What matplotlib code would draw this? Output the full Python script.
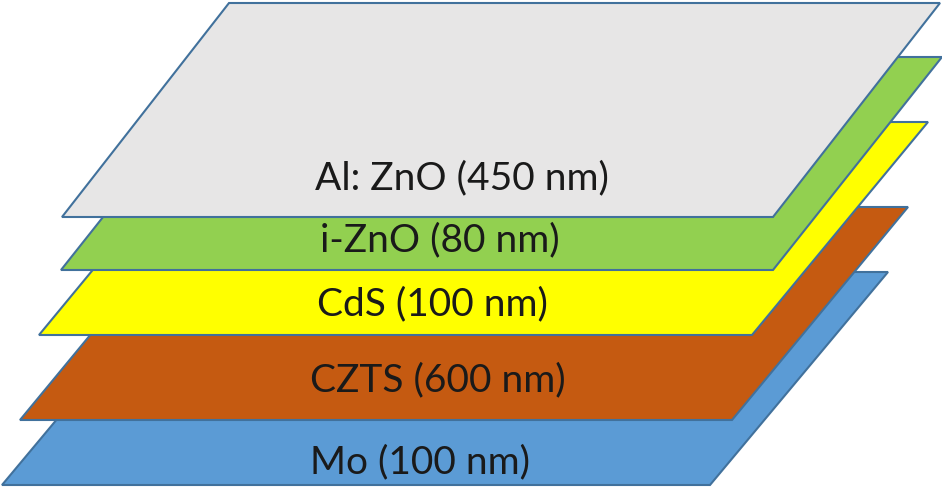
import matplotlib
matplotlib.use("Agg")
import matplotlib.pyplot as plt
from matplotlib.patches import Polygon

# Layers, bottom to top
materials = ["Mo", "CZTS", "CdS", "i-ZnO", "Al: ZnO"]
thickness_nm = [100, 600, 100, 80, 450]
colors = ["#5B9BD5", "#C55A11", "#FFFF00", "#92D050", "#E7E6E6"]
# geometry in pixel space (bottom-left x, bottom-right x, bottom y, top-right x, top y)
bl_x = [2, 20, 39, 61, 62]
br_x = [710, 732, 752, 773, 773]
bot_y = [485, 420, 335, 270, 217]
tr_x = [888, 908, 928, 942, 940]
top_y = [272, 207, 122, 57, 3]
label_xy = [(420, 462), (438, 380), (432, 304), (440, 240), (462, 178)]

fig = plt.figure(figsize=(9.42, 4.99), dpi=100)
ax = fig.add_axes([0, 0, 1, 1])
ax.set_xlim(0, 942)
ax.set_ylim(499, 0)
ax.axis("off")

for i, m in enumerate(materials):
    dx = tr_x[i] - br_x[i]
    pts = [(bl_x[i], bot_y[i]), (br_x[i], bot_y[i]),
           (tr_x[i], top_y[i]), (bl_x[i] + dx, top_y[i])]
    ax.add_patch(Polygon(pts, closed=True, facecolor=colors[i],
                         edgecolor="#41719C", lw=1.5, zorder=i))
    x, y = label_xy[i]
    ax.text(x, y, f"{m} ({thickness_nm[i]} nm)", ha="center", va="center",
            fontsize=28, family="Lato", color="#1a1a1a", zorder=10)

fig.savefig("out.png", dpi=100)
